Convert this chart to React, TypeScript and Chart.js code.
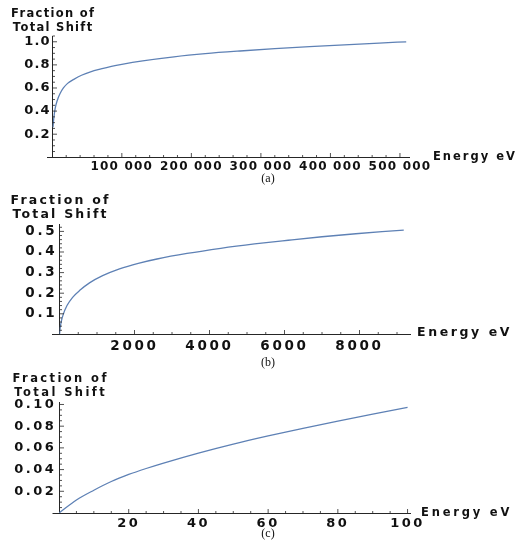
import React, { useEffect, useRef } from "react";
import { Chart, registerables } from "chart.js";

Chart.register(...registerables);

// ---------------- data ----------------
// (a) wide range
const ENERGY_A = [1000, 2000, 4000, 7000, 11000, 16000, 22000, 31000, 42000, 55000, 70000, 85000, 100000, 130000, 175000, 220000, 270000, 320000, 370000, 420000, 470000, 509000];
const FRACTION_A = [0.26, 0.33, 0.42, 0.49, 0.55, 0.6, 0.64, 0.675, 0.71, 0.74, 0.765, 0.787, 0.805, 0.835, 0.87, 0.897, 0.92, 0.94, 0.958, 0.974, 0.989, 1.0];
const X_TICKS_A = [100000, 200000, 300000, 400000, 500000];
const X_LABELS_A = ["100 000", "200 000", "300 000", "400 000", "500 000"];
const Y_TICKS_A = [0.2, 0.4, 0.6, 0.8, 1.0];
const Y_LABELS_A = ["0.2", "0.4", "0.6", "0.8", "1.0"];

// (b) medium range
const ENERGY_B = [0, 20, 50, 100, 200, 350, 550, 800, 1150, 1600, 2100, 2600, 3400, 4300, 5200, 6100, 7000, 7900, 8600, 9180];
const FRACTION_B = [0, 0.035, 0.064, 0.097, 0.14, 0.18, 0.215, 0.25, 0.285, 0.318, 0.345, 0.366, 0.393, 0.418, 0.439, 0.457, 0.474, 0.4885, 0.4985, 0.506];
const X_TICKS_B = [2000, 4000, 6000, 8000];
const X_LABELS_B = ["2000", "4000", "6000", "8000"];
const Y_TICKS_B = [0.1, 0.2, 0.3, 0.4, 0.5];
const Y_LABELS_B = ["0.1", "0.2", "0.3", "0.4", "0.5"];

// (c) low range
const ENERGY_C = [0, 5, 10, 15, 20, 25, 30, 40, 50, 60, 70, 80, 90, 100];
const FRACTION_C = [0, 0.012, 0.021, 0.029, 0.0355, 0.041, 0.046, 0.0552, 0.0635, 0.071, 0.078, 0.0847, 0.0912, 0.0973];
const X_TICKS_C = [20, 40, 60, 80, 100];
const X_LABELS_C = ["20", "40", "60", "80", "100"];
const Y_TICKS_C = [0.02, 0.04, 0.06, 0.08, 0.1];
const Y_LABELS_C = ["0.02", "0.04", "0.06", "0.08", "0.10"];

const Y_TITLE = ["Fraction of", "Total Shift"];
const X_TITLE = "Energy eV";
const CAPTIONS = ["(a)", "(b)", "(c)"];

// ---------------- styling / layout ----------------
const W = 527;
const FAMILY = '"DejaVu Sans", sans-serif';
const AXIS_COLOR = "#262626";
const LINE_COLOR = "rgb(94,129,181)";
const TEXT_COLOR = "#111111";
const MAJOR_LEN = 4.5;
const MINOR_LEN = 2.5;

const PANELS = [
  {
    energy: ENERGY_A, fraction: FRACTION_A,
    xTicks: X_TICKS_A, xLabels: X_LABELS_A, yTicks: Y_TICKS_A, yLabels: Y_LABELS_A,
    xMax: 513000, yMax: 1.05, xMinor: 20000, yMinor: 0.05,
    top: 0, height: 172,
    area: { left: 52.3, right: 409, top: 36, bottom: 157.3 },
    ext: 5.5,
    xFont: 12, yFont: 13, tickLs: 1.2, yPad: 1.5, xPad: 2.5,
    titleFont: 11.5, titleLs: 1.3, titleBase: [16.7, 30.7],
    energyX: 433, energyBase: 160.1, energyFont: 11.5, energyLs: 2,
    captionY: 177.5,
  },
  {
    energy: ENERGY_B, fraction: FRACTION_B,
    xTicks: X_TICKS_B, xLabels: X_LABELS_B, yTicks: Y_TICKS_B, yLabels: Y_LABELS_B,
    xMax: 9365, yMax: 0.533, xMinor: 500, yMinor: 0.02,
    top: 175, height: 190,
    area: { left: 59.5, right: 410.7, top: 224.6, bottom: 334.4 },
    ext: 7.5,
    xFont: 13.5, yFont: 13.5, tickLs: 2.7, yPad: 2.2, xPad: 4.2,
    titleFont: 12.5, titleLs: 2.2, titleBase: [204.3, 218.3],
    energyX: 417, energyBase: 336, energyFont: 12.5, energyLs: 2.6,
    captionY: 361.5,
  },
  {
    energy: ENERGY_C, fraction: FRACTION_C,
    xTicks: X_TICKS_C, xLabels: X_LABELS_C, yTicks: Y_TICKS_C, yLabels: Y_LABELS_C,
    xMax: 100.7, yMax: 0.102, xMinor: 5, yMinor: 0.005,
    top: 365, height: 165,
    area: { left: 59, right: 410, top: 402.3, bottom: 513 },
    ext: 7,
    xFont: 13, yFont: 13, tickLs: 2.5, yPad: 2.6, xPad: 3.1,
    titleFont: 11.5, titleLs: 2.4, titleBase: [381.7, 396],
    energyX: 421, energyBase: 515.5, energyFont: 11.5, energyLs: 2.8,
    captionY: 533,
  },
];

const alignPx = (v: number) => Math.round(v - 0.5) + 0.5;

function Panel({ p }: { p: any }) {
  const ref = useRef<HTMLCanvasElement | null>(null);

  useEffect(() => {
    const canvas = ref.current;
    if (!canvas) return;
    const a = p.area;
    const areaTop = a.top - p.top;
    const areaBottom = a.bottom - p.top;

    const plugin = {
      id: "mathAxes",
      beforeLayout(chart: any) {
        chart.ctx.letterSpacing = p.tickLs + "px";
      },
      beforeDraw(chart: any) {
        chart.ctx.letterSpacing = p.tickLs + "px";
      },
      afterDraw(chart: any) {
        const ctx = chart.ctx;
        const xs = chart.scales.x;
        const ys = chart.scales.y;
        const x0 = alignPx(xs.getPixelForValue(0));
        const y0 = alignPx(ys.getPixelForValue(0));
        ctx.save();
        ctx.letterSpacing = "0px";
        ctx.strokeStyle = AXIS_COLOR;
        ctx.lineWidth = 1;
        ctx.beginPath();
        ctx.moveTo(x0 - p.ext, y0);
        ctx.lineTo(x0, y0);
        ctx.stroke();

        ctx.lineWidth = 0.8;
        ctx.beginPath();
        const isMajor = (v: number, majors: number[], step: number) =>
          majors.some((m) => Math.abs(m - v) < step * 1e-3);
        p.xTicks.forEach((v: number) => {
          const px = xs.getPixelForValue(v);
          ctx.moveTo(px, y0);
          ctx.lineTo(px, y0 - MAJOR_LEN);
        });
        for (let i = 1; i * p.xMinor <= p.xMax; i++) {
          const v = i * p.xMinor;
          if (isMajor(v, p.xTicks, p.xMinor)) continue;
          const px = xs.getPixelForValue(v);
          ctx.moveTo(px, y0);
          ctx.lineTo(px, y0 - MINOR_LEN);
        }
        p.yTicks.forEach((v: number) => {
          const py = ys.getPixelForValue(v);
          ctx.moveTo(x0, py);
          ctx.lineTo(x0 + MAJOR_LEN, py);
        });
        for (let i = 1; i * p.yMinor <= p.yMax; i++) {
          const v = i * p.yMinor;
          if (isMajor(v, p.yTicks, p.yMinor)) continue;
          const py = ys.getPixelForValue(v);
          ctx.moveTo(x0, py);
          ctx.lineTo(x0 + MINOR_LEN, py);
        }
        ctx.stroke();

        ctx.fillStyle = TEXT_COLOR;
        ctx.font = `bold ${p.titleFont}px ${FAMILY}`;
        ctx.letterSpacing = p.titleLs + "px";
        ctx.textAlign = "center";
        ctx.textBaseline = "alphabetic";
        Y_TITLE.forEach((t, i) => {
          ctx.fillText(t, x0 + p.titleLs / 2, p.titleBase[i] - p.top);
        });
        ctx.font = `bold ${p.energyFont}px ${FAMILY}`;
        ctx.letterSpacing = p.energyLs + "px";
        ctx.textAlign = "left";
        ctx.fillText(X_TITLE, p.energyX, p.energyBase - p.top);
        ctx.restore();
      },
    };

    const chart = new Chart(canvas, {
      type: "line",
      data: {
        datasets: [
          {
            data: p.energy.map((e: number, i: number) => ({ x: e, y: p.fraction[i] })),
            borderColor: LINE_COLOR,
            borderWidth: 1.3,
            pointRadius: 0,
            fill: false,
            cubicInterpolationMode: "monotone",
          },
        ],
      },
      options: {
        responsive: false,
        animation: false,
        events: [],
        layout: { padding: { left: 0, top: areaTop, right: W - a.right, bottom: 0 } },
        plugins: {
          legend: { display: false },
          tooltip: { enabled: false },
          title: { display: false },
        },
        scales: {
          x: {
            type: "linear",
            min: 0,
            max: p.xMax,
            bounds: "data",
            grid: { display: false, drawTicks: false, tickLength: 0 },
            border: { display: true, color: AXIS_COLOR, width: 1 },
            afterBuildTicks: (s: any) => {
              s.ticks = p.xTicks.map((v: number) => ({ value: v }));
            },
            afterFit: (s: any) => {
              s.height = p.height - areaBottom;
            },
            ticks: {
              autoSkip: false,
              maxRotation: 0,
              minRotation: 0,
              padding: p.xPad,
              color: TEXT_COLOR,
              font: { family: FAMILY, size: p.xFont, weight: "bold" },
              callback: (_v: any, i: number) => p.xLabels[i],
            },
          },
          y: {
            type: "linear",
            min: 0,
            max: p.yMax,
            bounds: "data",
            grid: { display: false, drawTicks: false, tickLength: 0 },
            border: { display: true, color: AXIS_COLOR, width: 1 },
            afterBuildTicks: (s: any) => {
              s.ticks = p.yTicks.map((v: number) => ({ value: v }));
            },
            afterFit: (s: any) => {
              s.width = a.left;
            },
            ticks: {
              autoSkip: false,
              padding: p.yPad,
              color: TEXT_COLOR,
              font: { family: FAMILY, size: p.yFont, weight: "bold" },
              callback: (_v: any, i: number) => p.yLabels[i],
            },
          },
        },
      } as any,
      plugins: [plugin as any],
    });
    return () => chart.destroy();
  }, [p]);

  return (
    <canvas
      ref={ref}
      width={W}
      height={p.height}
      style={{ position: "absolute", left: 0, top: p.top, width: W, height: p.height }}
    />
  );
}

export default function App() {
  return (
    <div
      style={{
        position: "absolute",
        left: 0,
        top: 0,
        width: W,
        height: 550,
        background: "#ffffff",
        overflow: "hidden",
      }}
    >
      {PANELS.map((p, i) => (
        <Panel key={i} p={p} />
      ))}
      {PANELS.map((p, i) => (
        <div
          key={"c" + i}
          style={{
            position: "absolute",
            left: 248,
            width: 40,
            top: p.captionY - 7,
            height: 14,
            lineHeight: "14px",
            textAlign: "center",
            fontFamily: '"Liberation Serif", "Times New Roman", serif',
            fontSize: 12,
            color: "#111",
          }}
        >
          {CAPTIONS[i]}
        </div>
      ))}
    </div>
  );
}
